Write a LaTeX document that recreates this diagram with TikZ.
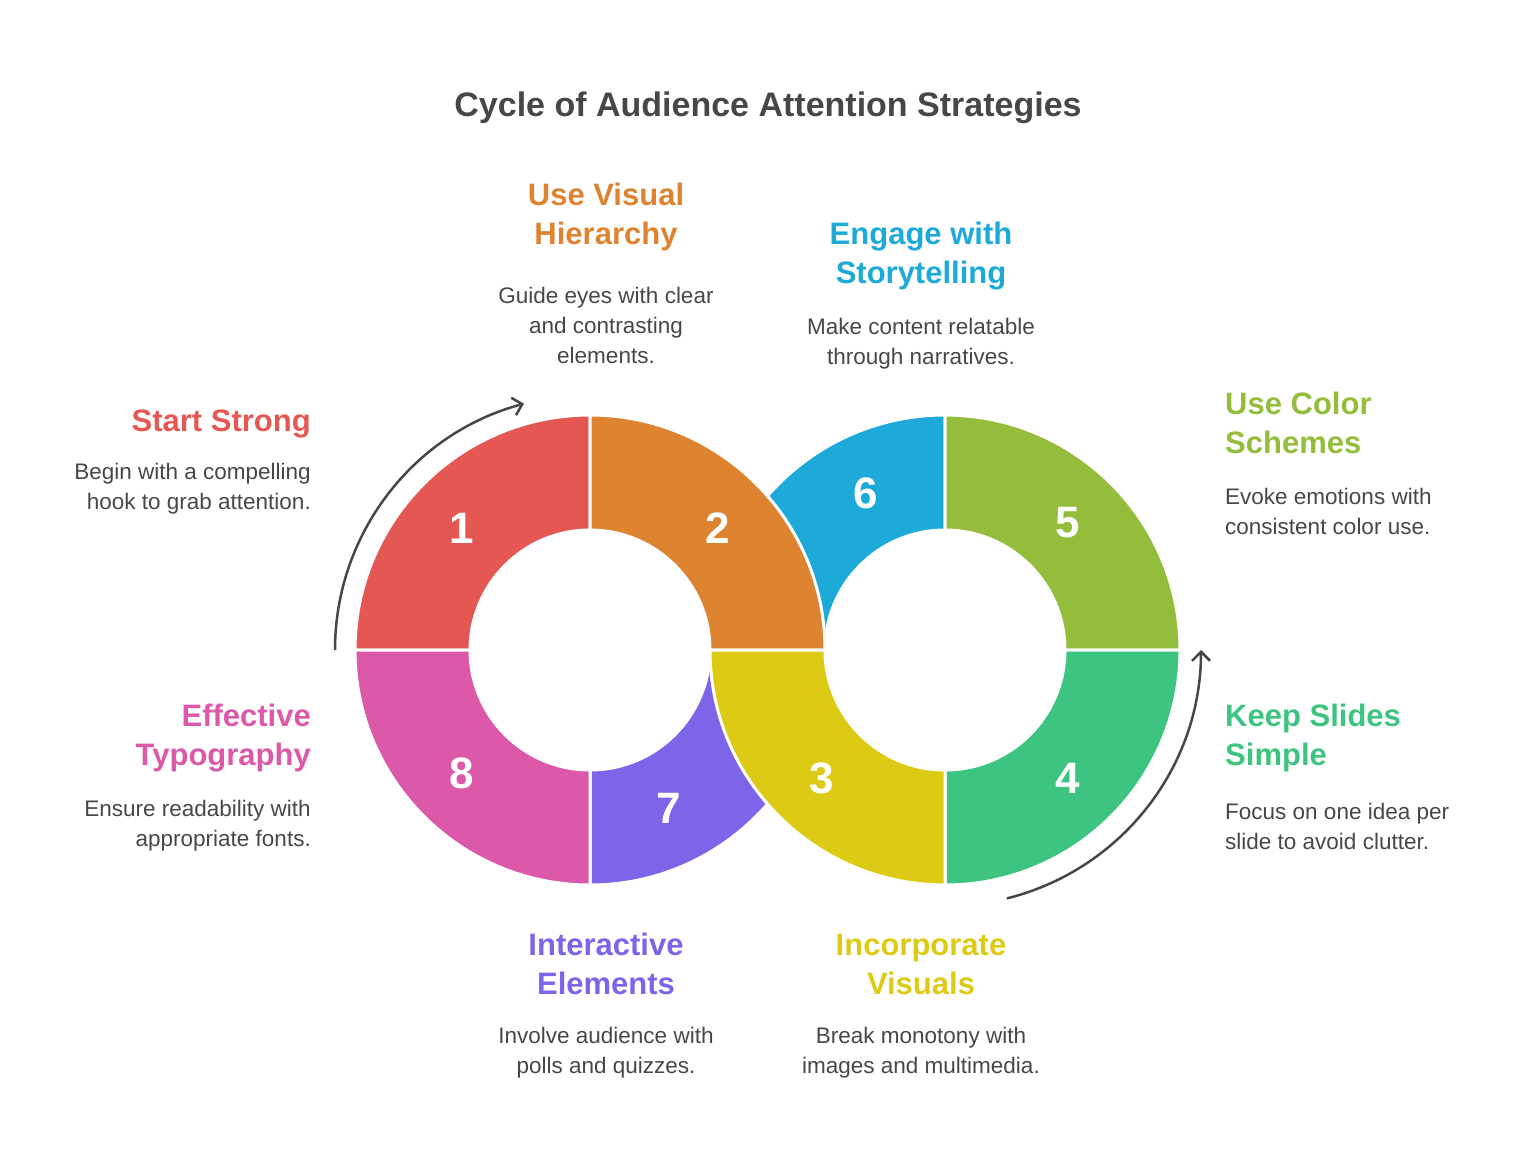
\documentclass[tikz,border=0pt]{standalone}
\usepackage{fontspec}
\setmainfont{Liberation Sans}
\usetikzlibrary{calc}
\usetikzlibrary{arrows.meta}
\definecolor{cRed}{HTML}{E55753}
\definecolor{cOrange}{HTML}{DE8431}
\definecolor{cBlue}{HTML}{1EAAD9}
\definecolor{cLime}{HTML}{93BD3A}
\definecolor{cGreen}{HTML}{3DC480}
\definecolor{cYellow}{HTML}{DDCA15}
\definecolor{cPurple}{HTML}{7D64E8}
\definecolor{cPink}{HTML}{DC58A9}
\definecolor{cText}{HTML}{474747}
\newcommand{\ringpart}[4]{% center, start, end, colour
  \draw[seg, fill=#4] ($(#1)+(#2:235)$) arc[start angle=#2, end angle=#3, radius=235]
    -- ($(#1)+(#3:120)$) arc[start angle=#3, end angle=#2, radius=120] -- cycle;}
\tikzset{
  seg/.style={draw=white, line width=3pt, line join=round},
  num/.style={text=white, font=\fontsize{44}{44}\selectfont\bfseries},
  head/.style={inner sep=0pt, font=\fontsize{31}{39}\selectfont\bfseries},
  body/.style={inner sep=0pt, text=cText, font=\fontsize{22.5}{30}\selectfont},
  cyc/.style={draw=cText, line width=2.5pt, -{Straight Barb[length=9pt,width=18pt]}}
}
\begin{document}
\begin{tikzpicture}[x=1pt,y=1pt]
  \useasboundingbox (0,0) rectangle (1536,-1162);
  \coordinate (L) at (590,-650);
  \coordinate (R) at (945,-650);

  % ring sectors
  \ringpart{R}{90}{180}{cBlue}
  \ringpart{L}{270}{360}{cPurple}
  \ringpart{L}{90}{180}{cRed}
  \ringpart{L}{0}{90}{cOrange}
  \ringpart{L}{180}{270}{cPink}
  \ringpart{R}{0}{90}{cLime}
  \ringpart{R}{270}{360}{cGreen}
  \ringpart{R}{180}{270}{cYellow}

  % numbers
  \node[num] (n1) at (462,-528) {1};
  \node[num] (n2) at (718,-528) {2};
  \node[num] (n3) at (822,-778) {3};
  \node[num] (n4) at (1068,-778) {4};
  \node[num] (n5) at (1068,-523) {5};
  \node[num] (n6) at (866,-493) {6};
  \node[num] (n7) at (669,-808) {7};
  \node[num] (n8) at (462,-773) {8};

  % cycle arrows
  \draw[cyc] ($(L)+(180:255)$) arc[start angle=180, end angle=105, radius=255];
  \draw[cyc] ($(R)+(-76:256)$) arc[start angle=-76, end angle=0, radius=256];

  % title
  \node[inner sep=0pt, text=cText, font=\fontsize{34}{40}\selectfont\bfseries] (title) at (768,-108) {Cycle of Audience Attention Strategies};

  % labels
  \node[head, text=cRed, anchor=east] (h1) at (311,-424) {Start Strong};
  \node[body, anchor=north east, align=right] (b1) at (311,-463) {Begin with a compelling\\hook to grab attention.};

  \node[head, text=cOrange, align=center] (h2) at (606,-217) {Use Visual\\Hierarchy};
  \node[body, align=center] (b2) at (606,-325) {Guide eyes with clear\\and contrasting\\elements.};

  \node[head, text=cBlue, align=center] (h6) at (921,-256) {Engage with\\Storytelling};
  \node[body, align=center] (b6) at (921,-344) {Make content relatable\\through narratives.};

  \node[head, text=cLime, anchor=west, align=left] (h5) at (1225,-423) {Use Color\\Schemes};
  \node[body, anchor=west, align=left] (b5) at (1225,-511) {Evoke emotions with\\consistent color use.};

  \node[head, text=cGreen, anchor=west, align=left] (h4) at (1225,-738) {Keep Slides\\Simple};
  \node[body, anchor=west, align=left] (b4) at (1225,-826) {Focus on one idea per\\slide to avoid clutter.};

  \node[head, text=cYellow, align=center] (h3) at (921,-964) {Incorporate\\Visuals};
  \node[body, align=center] (b3) at (921,-1053) {Break monotony with\\images and multimedia.};

  \node[head, text=cPurple, align=center] (h7) at (606,-964) {Interactive\\Elements};
  \node[body, align=center] (b7) at (606,-1053) {Involve audience with\\polls and quizzes.};

  \node[head, text=cPink, anchor=east, align=right] (h8) at (311,-738) {Effective\\Typography};
  \node[body, anchor=east, align=right] (b8) at (311,-826) {Ensure readability with\\appropriate fonts.};
\end{tikzpicture}
\end{document}
